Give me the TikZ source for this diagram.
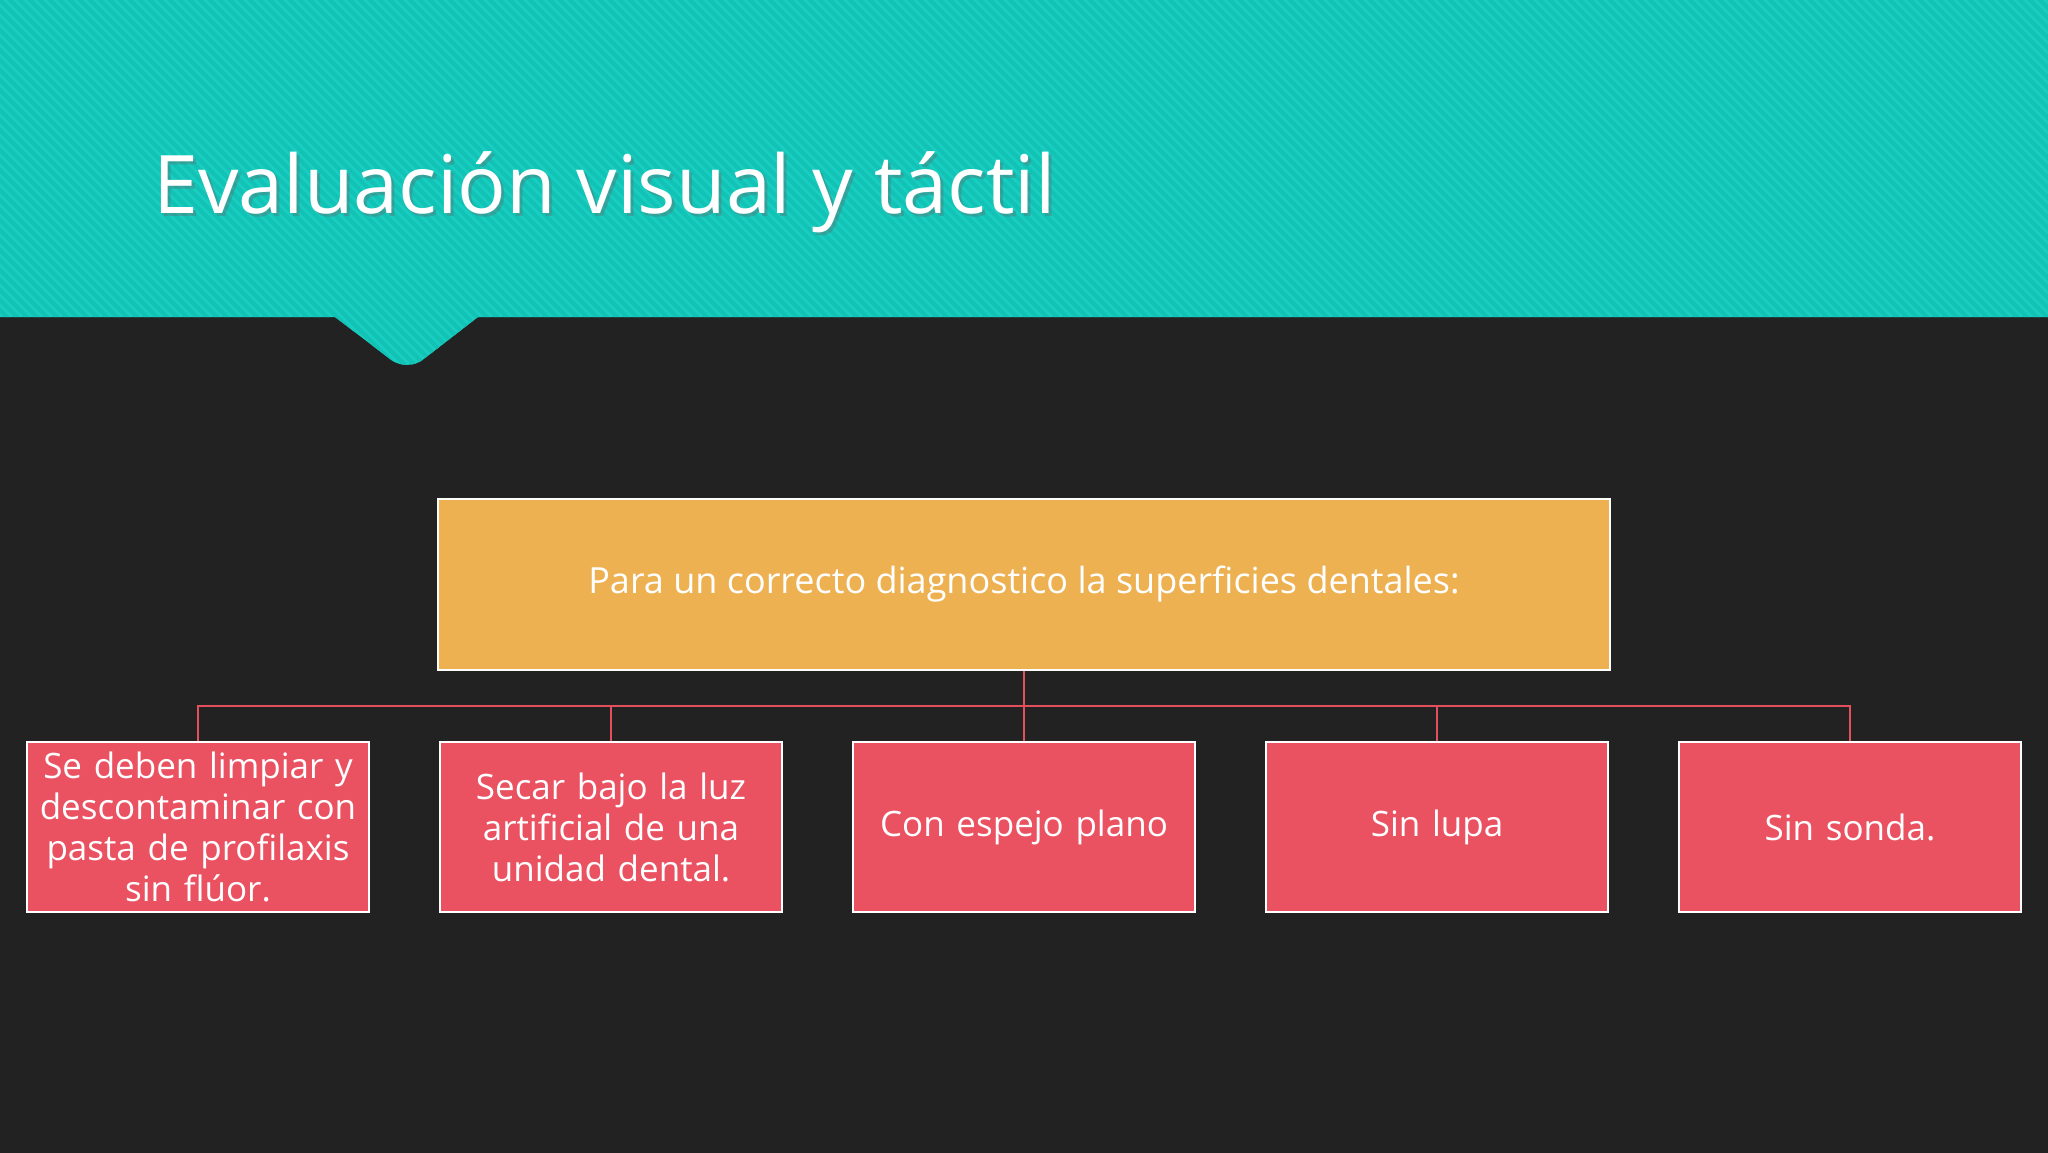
\documentclass[tikz,border=0pt]{standalone}
\usepackage{fontspec}
\setmainfont{Open Sans}
\definecolor{bgc}{HTML}{222222}
\definecolor{tealA}{HTML}{18CEC1}
\definecolor{tealB}{HTML}{12C2B5}
\definecolor{orangeC}{HTML}{EDB152}
\definecolor{redC}{HTML}{EA5262}
\definecolor{lineC}{HTML}{E2505E}
\tikzset{
  redbox/.style={draw=white, line width=1.2pt, fill=redC, minimum width=171pt, minimum height=85pt,
    text width=170pt, align=center, inner sep=0pt, text=white, font=\fontsize{17.5}{20.5}\selectfont},
  topbox/.style={draw=white, line width=1.2pt, fill=orangeC, minimum width=586pt, minimum height=85.5pt,
    inner sep=0pt, text=white, font=\fontsize{18}{21}\selectfont},
  conn/.style={draw=lineC, line width=1.1pt}
}
\begin{document}
\begin{tikzpicture}[x=0.5pt,y=-0.5pt]
\useasboundingbox (0,0) rectangle (2048,1152);
\fill[bgc] (-10,-10) rectangle (2058,1162);
\begin{scope}
\clip (-10,-10) -- (2058,-10) -- (2058,317) -- (478,317) [rounded corners=10] -- (407,372) [sharp corners] -- (335,317) -- (-10,317) -- cycle;
\fill[tealA] (-10,-10) rectangle (2058,400);
\foreach \i in {-420,-410,...,2060} {
  \draw[tealB, line width=2pt] (\i,-10) -- (\i+420,410);
}
\end{scope}
\node[anchor=base west, text=black!60, opacity=0.35, inner sep=0pt, font=\fontsize{40.4}{48}\selectfont] at (156,216) {Evaluación visual y táctil};
\node (title) [anchor=base west, text=white, inner sep=0pt, font=\fontsize{40.4}{48}\selectfont] at (153,213) {Evaluación visual y táctil};
\node (top) [topbox] at (1024,584.5) {Para un correcto diagnostico la superficies dentales:};
\coordinate (hub) at (1024,706);
\node (b1) [redbox] at (198,827) {Se deben limpiar y\\descontaminar con\\pasta de profilaxis\\sin flúor.};
\node (b2) [redbox] at (611,827) {Secar bajo la luz\\artificial de una\\unidad dental.};
\node (b3) [redbox] at (1024,827) {Con espejo plano};
\node (b4) [redbox] at (1437,827) {Sin lupa};
\node (b5) [redbox] at (1850,827) {Sin sonda.};
\draw[conn] (top.south) -- (hub);
\foreach \b in {b1,b2,b3,b4,b5} { \draw[conn] (hub) -| (\b.north); }
\end{tikzpicture}
\end{document}
